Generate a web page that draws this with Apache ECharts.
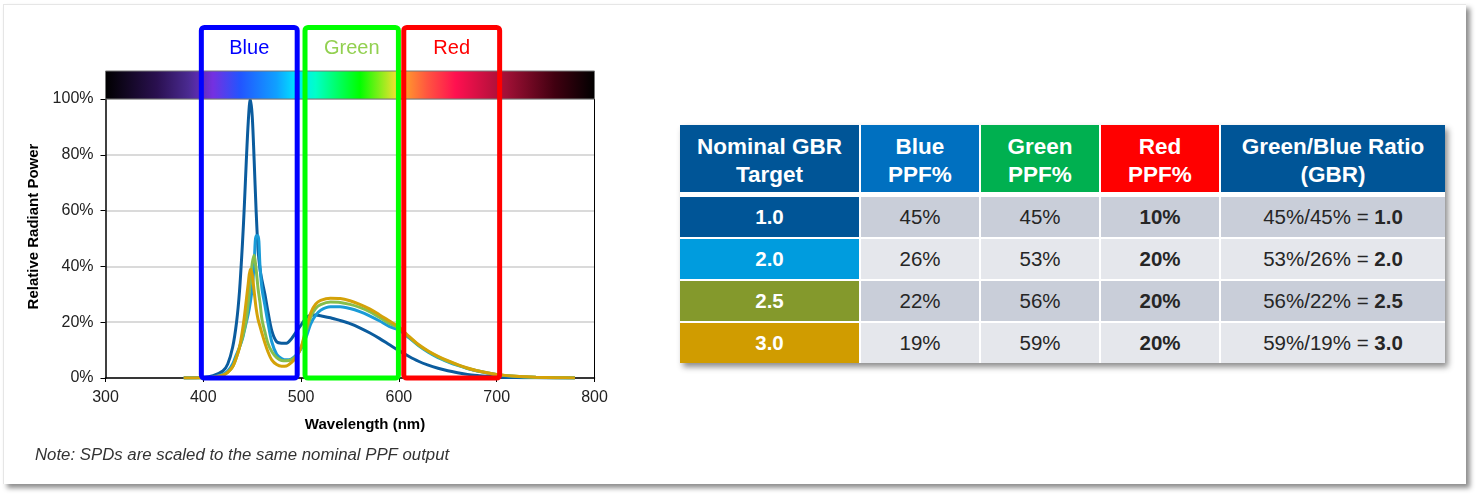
<!DOCTYPE html>
<html lang="en">
<head>
	<meta charset="utf-8">
	<title>GBR spectra</title>
	<script src="https://cdn.jsdelivr.net/npm/echarts@6/dist/echarts.min.js"></script>
	<style type="text/css">
		body {margin:0;width:1479px;height:497px;overflow:hidden;background:#fff;font-family:Arial,"Liberation Sans",sans-serif}
		#panel {position:absolute;left:3px;top:4px;width:1462px;height:479px;background:#fff;border-top:1px solid #e6e6e6;border-left:1px solid #e6e6e6;box-shadow:4px 4px 5px rgba(0,0,0,0.45)}
		#chart {position:absolute;left:0;top:0;width:640px;height:497px}
		#gbr_table {position:absolute;left:680px;top:125px;width:765px;table-layout:fixed;border-collapse:separate;border-spacing:0;box-shadow:3px 4px 6px rgba(0,0,0,0.45);font-family:Arial,"Liberation Sans",sans-serif}
		#gbr_table th, #gbr_table td {box-sizing:border-box}
		#gbr_table th {color:#fff;font-size:22.5px;font-weight:bold;line-height:28px;height:72px;padding:5px 0 0 0;border-right:2px solid #fff;border-bottom:5px solid #fff;white-space:nowrap}
		#gbr_table td {font-size:20.5px;color:#262626;height:42px;padding:0;text-align:center;border-right:2px solid #fff;border-bottom:2px solid #fff;white-space:nowrap}
		#gbr_table td.target {color:#fff;font-weight:bold}
		#gbr_table tr td:last-child, #gbr_table tr th:last-child {border-right:none}
		#gbr_table tr:last-child td {border-bottom:none;height:40px}
		#gbr_table .odd td {background:#C9CED9}
		#gbr_table .even td {background:#E5E7EC}
	</style>
</head>
<body>
	<div id="panel"></div>
	<div id="chart"></div>
	<table id="gbr_table"></table>

	<script>
		// wavelength samples (nm) and relative radiant power (%)
		var wavelength = [380, 400, 410, 420, 425, 430, 434, 437, 440, 442, 444, 446, 448, 450, 452, 454, 456, 458, 460, 463, 466, 470, 475, 480, 485, 490, 495, 500, 505, 510, 515, 520, 530, 540, 550, 560, 570, 580, 590, 600, 610, 620, 630, 640, 650, 660, 670, 680, 690, 700, 720, 740, 760, 780];
		var spd_10 = [0, 0.2, 0.8, 2.5, 5, 11, 20, 31, 48, 62, 78, 92, 100, 94, 78, 60, 46, 39, 35, 30, 24, 17, 13, 12.5, 12.5, 14, 16.5, 19, 21.5, 22.5, 22.6, 22.3, 21.6, 20.6, 19.5, 18, 16.2, 14.2, 12, 9.8, 7.8, 6, 4.6, 3.5, 2.6, 1.9, 1.3, 0.9, 0.6, 0.4, 0.15, 0.05, 0, 0];
		var spd_20 = [0, 0.1, 0.4, 1.3, 2.5, 5, 8.5, 11, 14, 17, 20, 23, 27, 32, 41, 51, 51, 40, 32, 26, 20, 13, 8.5, 7, 6.5, 6.8, 8.2, 10.5, 14.5, 19.5, 22.5, 24.3, 25.5, 25.5, 24.9, 23.8, 22.3, 20.5, 18.5, 17.2, 14.5, 11.6, 9.2, 7.3, 5.8, 4.5, 3.4, 2.5, 1.8, 1.2, 0.55, 0.25, 0.08, 0];
		var spd_25 = [0, 0.1, 0.3, 1, 2, 4, 7.5, 11, 14.5, 17.5, 21, 27, 34, 41, 44, 39, 32, 27, 21, 16.5, 12.5, 9.5, 7.3, 6.3, 6.2, 6.6, 8, 11, 16.5, 22, 25, 26.3, 27.2, 27.1, 26.4, 25.3, 23.8, 21.8, 19.6, 18, 14.8, 11.8, 9.5, 7.6, 6, 4.7, 3.5, 2.6, 1.9, 1.3, 0.6, 0.28, 0.1, 0];
		var spd_30 = [0, 0.1, 0.3, 1, 2, 4, 7.5, 11, 17, 22, 28, 34, 39, 37, 31, 25, 21, 18.5, 16, 12.5, 9.5, 6.5, 4.8, 4.2, 4.3, 5.5, 7.5, 11, 17.5, 23.5, 26.5, 27.8, 28.6, 28.5, 27.7, 26.4, 24.8, 22.7, 20.5, 18.3, 15, 12, 9.7, 7.8, 6.2, 4.8, 3.6, 2.6, 1.9, 1.3, 0.6, 0.3, 0.1, 0];

		var series_names = ['1.0', '2.0', '2.5', '3.0'];
		var series_colors = ['#0B5C9E', '#1A9BD7', '#86BE4C', '#D4A208'];

		// table
		var table_header = ['Nominal GBR<br>Target', 'Blue<br>PPF%', 'Green<br>PPF%', 'Red<br>PPF%', 'Green/Blue Ratio<br>(GBR)'];
		var header_colors = ['#005597', '#0070C0', '#00B050', '#FF0000', '#005597'];
		var target_colors = ['#005597', '#009CDE', '#84992C', '#D09C00'];
		var gbr_target = ['1.0', '2.0', '2.5', '3.0'];
		var blue_ppf = [45, 26, 22, 19];
		var green_ppf = [45, 53, 56, 59];
		var red_ppf = [10, 20, 20, 20];
		var gbr_ratio = ['1.0', '2.0', '2.5', '3.0'];
		var col_widths = [181, 120, 120, 120, 224];

		// spectrum bar colour stops (nm, colour)
		var spectrum_nm = [300, 353, 385, 410, 438, 475, 495, 515, 560, 597, 609, 629, 658, 710, 759, 800];
		var spectrum_col = ['#000000', '#2A1050', '#4A2A90', '#7530E0', '#2255FF', '#10A0FF', '#00E5FF', '#00FFC8', '#00FF00', '#F0E030', '#FF9030', '#FF5540', '#FF1050', '#A01035', '#400010', '#000000'];

		// coloured band boxes (nm range of the box outline) and labels
		var band_names = ['Blue', 'Green', 'Red'];
		var band_from = [398, 504, 605];
		var band_to = [496, 599.5, 703];
		var band_colors = ['#0000FF', '#00FF00', '#FF0000'];
		var band_text_colors = ['#0000FF', '#92D050', '#FF0000'];

		<!--build table-->
		var html = '<tr>';
		for (var c = 0; c < table_header.length; c++) {
			html += "<th style='background:" + header_colors[c] + ";width:" + col_widths[c] + "px'>" + table_header[c] + "</th>";
		}
		html += '</tr>';
		for (var r = 0; r < gbr_target.length; r++) {
			html += "<tr class='" + (r % 2 == 0 ? "odd" : "even") + "'>";
			html += "<td class='target' style='background:" + target_colors[r] + "'>" + gbr_target[r] + "</td>";
			html += "<td>" + blue_ppf[r] + "%</td>";
			html += "<td>" + green_ppf[r] + "%</td>";
			html += "<td><b>" + red_ppf[r] + "%</b></td>";
			html += "<td>" + green_ppf[r] + "%/" + blue_ppf[r] + "% = <b>" + gbr_ratio[r] + "</b></td>";
			html += "</tr>";
		}
		document.getElementById('gbr_table').innerHTML = html;

		<!--chart-->
		var myChart = echarts.init(document.getElementById('chart'));
		var all_spd = [spd_10, spd_20, spd_25, spd_30];
		var series = [];
		for (var s = 0; s < all_spd.length; s++) {
			series.push({
				name: series_names[s],
				type: 'line',
				smooth: 0.3,
				showSymbol: false,
				lineStyle: {color: series_colors[s], width: 3},
				itemStyle: {color: series_colors[s]},
				data: wavelength.map(function (w, i) { return [w, all_spd[s][i]]; })
			});
		}

		var option = {
			animation: false,
			textStyle: {fontFamily: 'Arial'},
			grid: {left: 105.5, top: 99, width: 489, height: 279},
			xAxis: {
				type: 'value', min: 300, max: 800, interval: 100,
				name: 'Wavelength (nm)', nameLocation: 'middle', nameGap: 39,
				nameTextStyle: {fontSize: 15, fontWeight: 'bold', color: '#000', padding: [0, 0, 0, 30]},
				axisLine: {lineStyle: {color: '#000', width: 1.5}},
				axisTick: {show: true, length: 4, lineStyle: {color: '#000'}},
				axisLabel: {fontSize: 16, color: '#222', margin: 12},
				splitLine: {show: false}
			},
			yAxis: [
				{
					type: 'value', min: 0, max: 100, interval: 20, position: 'left',
					name: 'Relative Radiant Power', nameLocation: 'middle', nameGap: 58,
					nameTextStyle: {fontSize: 15, fontWeight: 'bold', color: '#000', padding: [0, 0, 0, 24]},
					axisLine: {show: true, lineStyle: {color: '#000', width: 1.5}},
					axisTick: {show: true, length: 5, lineStyle: {color: '#000'}},
					axisLabel: {formatter: '{value}%', fontSize: 16, color: '#222', margin: 12},
					splitLine: {lineStyle: {color: '#DADADA', width: 2}}
				},
				{
					type: 'value', min: 0, max: 100, position: 'right',
					axisLine: {show: true, lineStyle: {color: '#000', width: 1}},
					axisTick: {show: false}, axisLabel: {show: false}, splitLine: {show: false}
				}
			],
			series: series
		};
		myChart.setOption(option);

		<!--spectrum bar, band boxes, note-->
		function px(nm, v) {
			return myChart.convertToPixel({gridIndex: 0}, [nm, v]);
		}
		var p_left = px(300, 100);
		var p_right = px(800, 0);
		var bar_h = 28;
		var stops = spectrum_nm.map(function (nm, i) {
			return {offset: (nm - 300) / 500, color: spectrum_col[i]};
		});
		var graphic = [{
			type: 'rect', z: 50,
			shape: {x: p_left[0], y: p_left[1] - bar_h, width: p_right[0] - p_left[0], height: bar_h},
			style: {fill: new echarts.graphic.LinearGradient(0, 0, 1, 0, stops), stroke: '#777', lineWidth: 1}
		}];
		var box_top = 27.5;
		for (var b = 0; b < band_names.length; b++) {
			var a = px(band_from[b], 0);
			var e = px(band_to[b], 0);
			graphic.push({
				type: 'rect', z: 60,
				shape: {x: a[0], y: box_top, width: e[0] - a[0], height: a[1] - box_top, r: 3},
				style: {fill: 'none', stroke: band_colors[b], lineWidth: 5}
			});
			graphic.push({
				type: 'text', z: 60, x: (a[0] + e[0]) / 2, y: 48,
				style: {text: band_names[b], fill: band_text_colors[b], font: '20px Arial', align: 'center', verticalAlign: 'middle'}
			});
		}
		graphic.push({
			type: 'text', z: 60, x: 35, y: 455,
			style: {text: 'Note: SPDs are scaled to the same nominal PPF output', fill: '#333', font: 'italic 16.8px Arial', verticalAlign: 'middle'}
		});
		myChart.setOption({graphic: graphic});
	</script>
</body>
</html>
